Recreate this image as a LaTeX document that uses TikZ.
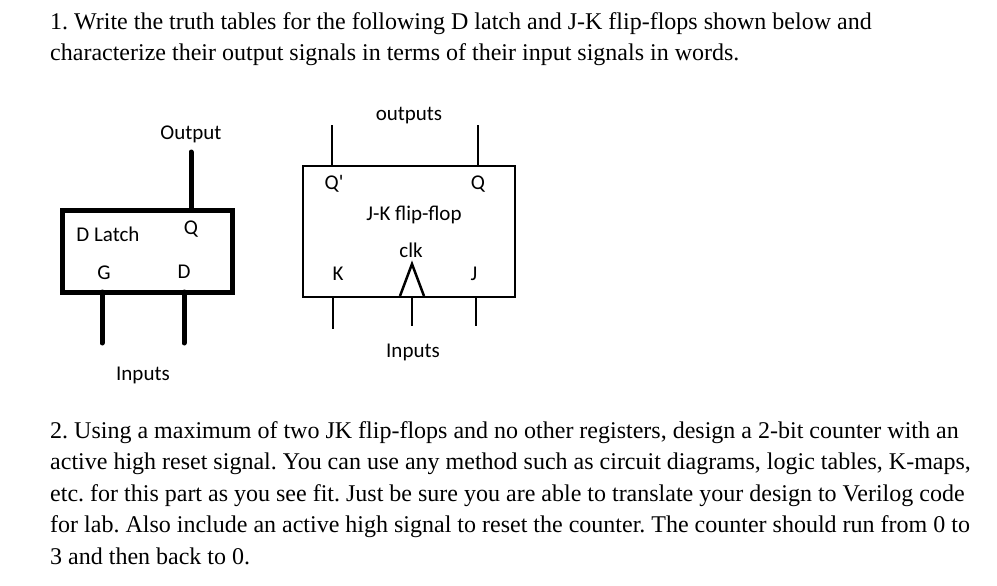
\documentclass[tikz,border=0pt]{standalone}
\usepackage{fontspec}
\setmainfont{Liberation Serif}
\newfontfamily\calfont{Carlito}
\frenchspacing
\begin{document}
\begin{tikzpicture}[x=1pt,y=-1pt,
  txt/.style={anchor=base west,inner sep=0pt,font=\fontsize{24}{27}\selectfont},
  lbl/.style={inner sep=0pt,font=\calfont\fontsize{21}{24}\selectfont},
  thick5/.style={line width=5pt},
  thin3/.style={line width=2.5pt}]
\useasboundingbox (0,0) rectangle (997,586);
\fill[white] (0,0) rectangle (997,586);
\node[txt] (t1) at (50,30) {1. Write the truth tables for the following D latch and J-K flip-flops shown below and};
\node[txt] (t2) at (50,61) {characterize their output signals in terms of their input signals in words.};
\node[txt] (t3) at (50,438) {2. Using a maximum of two JK flip-flops and no other registers, design a 2-bit counter with an};
\node[txt] (t4) at (50,469) {active high reset signal. You can use any method such as circuit diagrams, logic tables, K-maps,};
\node[txt] (t5) at (50,501) {etc. for this part as you see fit. Just be sure you are able to translate your design to Verilog code};
\node[txt] (t6) at (50,532) {for lab. Also include an active high signal to reset the counter. The counter should run from 0 to};
\node[txt] (t7) at (50,564) {3 and then back to 0.};
% D latch
\draw[thick5] (62,210) rectangle (232,292);
\coordinate (dq) at (191,210); \coordinate (dqe) at (191,152);
\coordinate (dg) at (102,292); \coordinate (dge) at (102,343);
\coordinate (dd) at (184,292); \coordinate (dde) at (184,343);
\draw[thick5,line cap=round] (dq) -- (dqe);
\draw[thick5,line cap=round] (dg) -- (dge);
\draw[thick5,line cap=round] (dd) -- (dde);
\node[lbl] (dl) at (108,234) {D Latch};
\node[lbl] (dql) at (191,229) {Q};
\node[lbl] (dgl) at (104,273) {G};
\node[lbl] (ddl) at (184,272) {D};
\node[lbl] (dout) at (191,134) {Output};
\node[lbl] (din) at (143,375) {Inputs};
% JK
\draw[thin3] (303,166) rectangle (515,297);
\coordinate (jqb) at (332,166); \coordinate (jqbe) at (332,125);
\coordinate (jq) at (478,166); \coordinate (jqe) at (478,125);
\coordinate (jk) at (333,297); \coordinate (jke) at (333,329);
\coordinate (jc) at (412,297); \coordinate (jce) at (412,326);
\coordinate (jj) at (476,297); \coordinate (jje) at (476,326);
\draw[thin3] (jqb) -- (jqbe);
\draw[thin3] (jq) -- (jqe);
\draw[thin3] (jk) -- (jke);
\draw[thin3] (jc) -- (jce);
\draw[thin3] (jj) -- (jje);
\draw[thin3,line join=miter] (400,296) -- (412,264) -- (424,296);
\node[lbl] (jqbl) at (334,184) {Q'};
\node[lbl] (jql) at (478,184) {Q};
\node[lbl] (jname) at (414,215) {J-K flip-flop};
\node[lbl] (jclk) at (411,250) {clk};
\node[lbl] (jkl) at (338,274) {K};
\node[lbl] (jjl) at (474,274) {J};
\node[lbl] (jout) at (409,116) {outputs};
\node[lbl] (jin) at (413,352) {Inputs};
\end{tikzpicture}
\end{document}
